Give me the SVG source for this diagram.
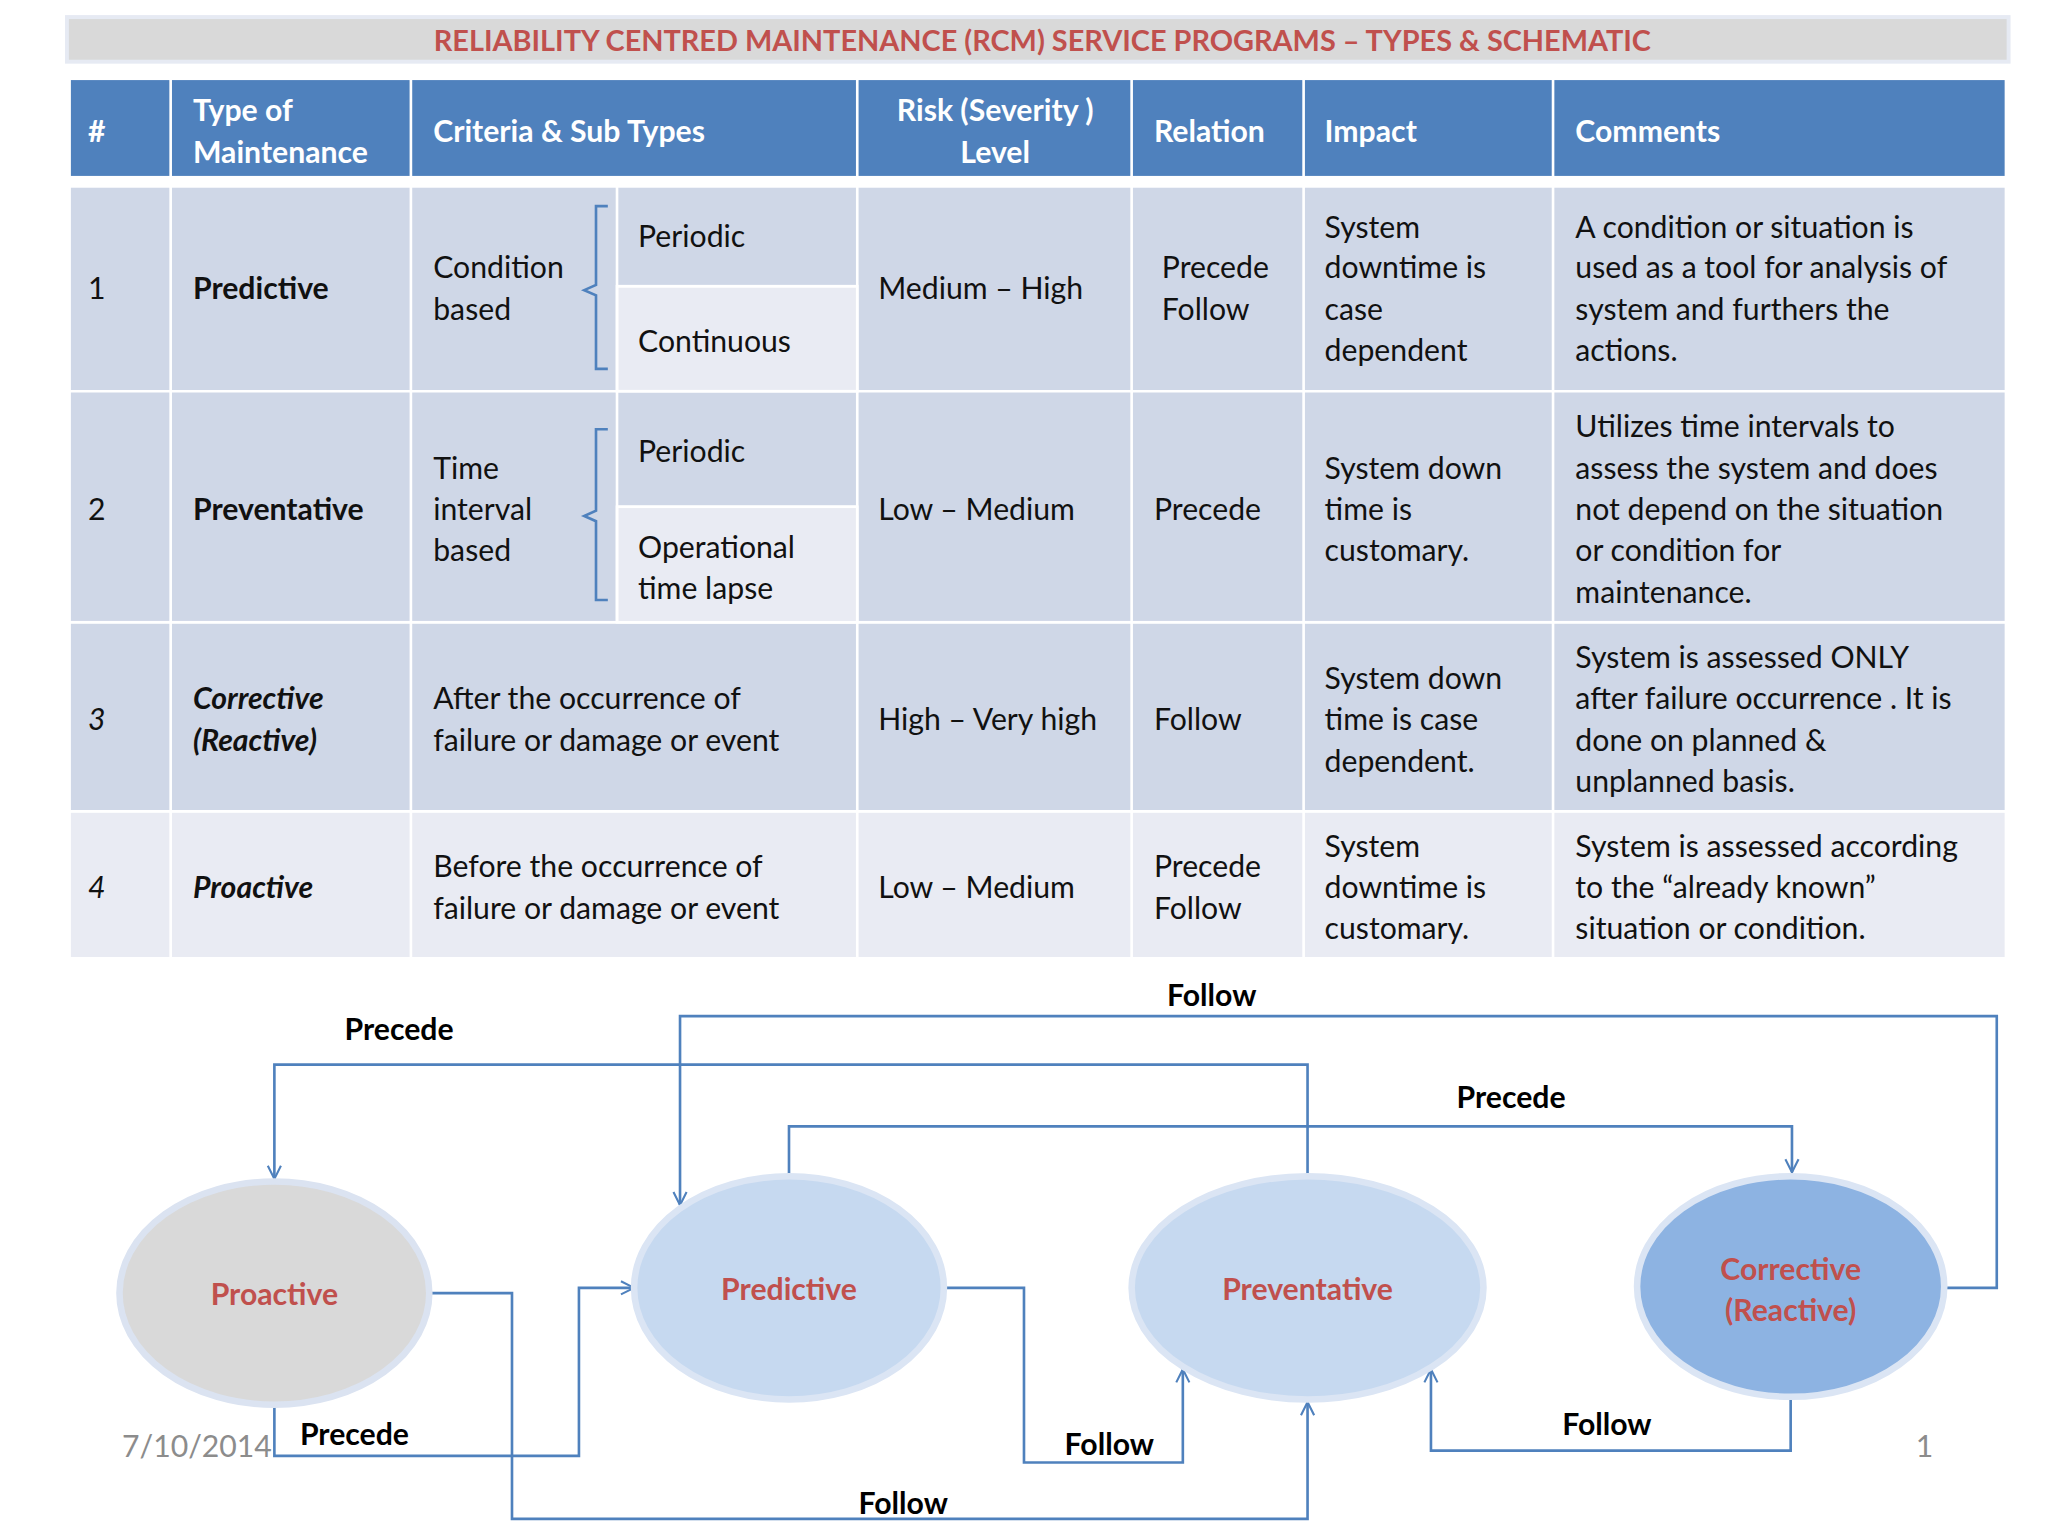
<svg xmlns="http://www.w3.org/2000/svg" width="2048" height="1536" viewBox="0 0 2048 1536">
<style>
text{font-family:Lato,"Noto Sans","Liberation Sans",sans-serif;font-size:23px;fill:#111}
.h{fill:#fff;font-weight:bold}
.b{font-weight:bold}
.bi{font-weight:bold;font-style:italic}
.it{font-style:italic}
.lab{font-weight:bold;font-size:23px;fill:#000}
.nt{font-size:23px;fill:#c0504d;font-weight:bold;text-anchor:middle}
.c{stroke:#4f81bd;stroke-width:2;fill:none}
.r1{fill:#cfd7e7}.r4{fill:#e9ebf3}
</style>
<defs><marker id="a" viewBox="0 0 12 12" refX="11" refY="6" markerWidth="12" markerHeight="12" markerUnits="userSpaceOnUse" orient="auto"><path d="M1,1 L11,6 L1,11" fill="none" stroke="#4f81bd" stroke-width="1.6"/></marker></defs>
<rect width="2048" height="1536" fill="#fff"/>
<g transform="scale(1.3128)">
<g id="title"><rect x="51" y="13" width="1479" height="34" fill="#d9d9d9" stroke="#e6eaf3" stroke-width="3"/>
<text x="794" y="39" text-anchor="middle" style="fill:#c0504d;font-weight:bold;font-size:22px">RELIABILITY CENTRED MAINTENANCE (RCM) SERVICE PROGRAMS  – TYPES  &amp; SCHEMATIC</text></g>
<g id="table" stroke="#fff" stroke-width="2">
<rect x="53" y="60" width="1475" height="75" fill="#4f81bd"/>
<rect x="53" y="142" width="1475" height="332" class="r1"/>
<rect x="53" y="474" width="1475" height="144" class="r1"/>
<rect x="53" y="618" width="1475" height="112" class="r4"/>
<rect x="470" y="218" width="183" height="80" class="r4"/>
<rect x="470" y="386" width="183" height="88" class="r4"/>
<path d="M130,60V730M313,60V730M653,60V730M862,60V730M993,60V730M1183,60V730M470,142V474M53,298H1528M470,218H653M470,386H653M53,474H1528M53,618H1528" fill="none"/>
</g>
<g id="header">
<text class="h" x="67" y="108">#</text>
<text class="h" x="147" y="92">Type of</text><text class="h" x="147" y="124">Maintenance</text>
<text class="h" x="330" y="108">Criteria  &amp; Sub Types</text>
<text class="h" x="758" y="92" text-anchor="middle">Risk  (Severity )</text><text class="h" x="758" y="124" text-anchor="middle">Level</text>
<text class="h" x="879" y="108">Relation</text>
<text class="h" x="1009" y="108">Impact</text>
<text class="h" x="1200" y="108">Comments</text>
</g>
<g id="row1">
<text x="67" y="228">1</text><text class="b" x="147" y="228">Predictive</text>
<text x="330" y="212">Condition</text><text x="330" y="244">based</text>
<path d="M463,157h-9v60l-9,4 9,4v56h9" class="c" stroke-width="1.5"/>
<text x="486" y="188">Periodic</text><text x="486" y="268">Continuous</text>
<text x="669" y="228">Medium – High</text>
<text x="885" y="212">Precede</text><text x="885" y="244">Follow</text>
<text x="1009" y="181">System</text><text x="1009" y="212">downtime is</text><text x="1009" y="244">case</text><text x="1009" y="275">dependent</text>
<text x="1200" y="181">A condition or situation is</text><text x="1200" y="212">used as a tool for analysis of</text><text x="1200" y="244">system and furthers the</text><text x="1200" y="275">actions.</text>
</g>
<g id="row2">
<text x="67" y="396">2</text><text class="b" x="147" y="396">Preventative</text>
<text x="330" y="365">Time</text><text x="330" y="396">interval</text><text x="330" y="427">based</text>
<path d="M463,327h-9v62l-9,4 9,4v60h9" class="c" stroke-width="1.5"/>
<text x="486" y="352">Periodic</text><text x="486" y="425">Operational</text><text x="486" y="456">time lapse</text>
<text x="669" y="396">Low – Medium</text>
<text x="879" y="396">Precede</text>
<text x="1009" y="365">System down</text><text x="1009" y="396">time  is</text><text x="1009" y="427">customary.</text>
<text x="1200" y="333">Utilizes time intervals to</text><text x="1200" y="365">assess the system and does</text><text x="1200" y="396">not depend  on the situation</text><text x="1200" y="427">or condition for</text><text x="1200" y="459">maintenance.</text>
</g>
<g id="row3">
<text class="it" x="67" y="556">3</text><text class="bi" x="147" y="540">Corrective</text><text class="bi" x="147" y="572">(Reactive)</text>
<text x="330" y="540">After the occurrence of</text><text x="330" y="572">failure or damage or event</text>
<text x="669" y="556">High – Very high</text>
<text x="879" y="556">Follow</text>
<text x="1009" y="525">System down</text><text x="1009" y="556">time is case</text><text x="1009" y="588">dependent.</text>
<text x="1200" y="509">System is assessed  ONLY</text><text x="1200" y="540">after failure occurrence . It is</text><text x="1200" y="572">done on planned &amp;</text><text x="1200" y="603">unplanned basis.</text>
</g>
<g id="row4">
<text class="it" x="67" y="684">4</text><text class="bi" x="147" y="684">Proactive</text>
<text x="330" y="668">Before the occurrence of</text><text x="330" y="700">failure or damage or event</text>
<text x="669" y="684">Low – Medium</text>
<text x="879" y="668">Precede</text><text x="879" y="700">Follow</text>
<text x="1009" y="653">System</text><text x="1009" y="684">downtime is</text><text x="1009" y="715">customary.</text>
<text x="1200" y="653">System is assessed according</text><text x="1200" y="684">to the  “already known”</text><text x="1200" y="715">situation or condition.</text>
</g>
<g id="connectors">
<path class="c" marker-end="url(#a)" d="M996,896V811H209V898"/>
<path class="c" marker-end="url(#a)" d="M1482,981H1521V774H518V918"/>
<path class="c" marker-end="url(#a)" d="M601,896V858H1365V893"/>
<path class="c" marker-end="url(#a)" d="M327,985H390V1157H996V1068"/>
<path class="c" marker-end="url(#a)" d="M209,1070V1109H441V981H483"/>
<path class="c" marker-end="url(#a)" d="M719,981H780V1114H901V1043"/>
<path class="c" marker-end="url(#a)" d="M1364,1066V1105H1090V1043"/>
</g>
<g id="proactive"><ellipse cx="209" cy="985" rx="118" ry="85" fill="#d9d9d9" stroke="#dbe3f1" stroke-width="5"/><text class="nt" x="209" y="994">Proactive</text></g>
<g id="predictive"><ellipse cx="601" cy="981" rx="118" ry="85" fill="#c6d9f0" stroke="#dbe5f4" stroke-width="5"/><text class="nt" x="601" y="990">Predictive</text></g>
<g id="preventative"><ellipse cx="996" cy="981" rx="134" ry="85" fill="#c6d9f0" stroke="#dbe5f4" stroke-width="5"/><text class="nt" x="996" y="990">Preventative</text></g>
<g id="corrective"><ellipse cx="1364" cy="980" rx="117" ry="84" fill="#8db3e2" stroke="#dbe5f4" stroke-width="5"/><text class="nt" x="1364" y="975">Corrective</text><text class="nt" x="1364" y="1006">(Reactive)</text></g>
<g id="labels">
<text class="lab" x="304" y="792" text-anchor="middle">Precede</text>
<text class="lab" x="923" y="766" text-anchor="middle">Follow</text>
<text class="lab" x="1151" y="844" text-anchor="middle">Precede</text>
<text class="lab" x="270" y="1101" text-anchor="middle">Precede</text>
<text class="lab" x="845" y="1108" text-anchor="middle">Follow</text>
<text class="lab" x="688" y="1153" text-anchor="middle">Follow</text>
<text class="lab" x="1224" y="1093" text-anchor="middle">Follow</text>
<text x="150" y="1110" text-anchor="middle" style="fill:#8c8c8c">7/10/2014</text>
<text x="1466" y="1110" text-anchor="middle" style="fill:#8c8c8c">1</text>
</g>
</g>
</svg>
